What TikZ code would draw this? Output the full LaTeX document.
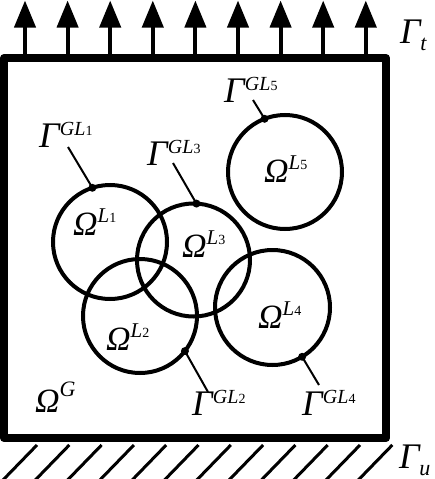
\documentclass[tikz,border=0pt]{standalone}
\usepackage{fontspec}
\setmainfont{Liberation Serif}
\usetikzlibrary{arrows.meta}
\newcommand\glab[3]{{\fontsize{36}{36}\selectfont\itshape #1}\kern0.5pt\raisebox{12pt}{\fontsize{20}{20}\selectfont\itshape #2{\fontsize{14}{14}\selectfont\upshape #3}}}
\newcommand\olab[3]{{\fontsize{34}{34}\selectfont\itshape #1}\raisebox{13pt}{\fontsize{21}{21}\selectfont\itshape #2{\fontsize{14}{14}\selectfont\upshape #3}}}
\newcommand\blab[2]{{\fontsize{36}{36}\selectfont\itshape #1}\raisebox{-7pt}{\fontsize{22}{22}\selectfont\itshape #2}}
\begin{document}
\begin{tikzpicture}[x=1pt,y=-1pt,
  boxline/.style={line width=8pt,line join=round},
  load/.style={line width=4pt,-{Triangle[length=27pt,width=21pt]}},
  hatch/.style={line width=3pt},
  loc/.style={circle,draw,line width=4pt,inner sep=0pt,outer sep=0pt},
  lead/.style={line width=2pt},
  lbl/.style={anchor=base west,inner sep=0pt,outer sep=0pt}]
\useasboundingbox (0,0) rectangle (434,479);
% domain
\coordinate (p1) at (4,58);
\coordinate (p2) at (386,58);
\coordinate (p3) at (386,438);
\coordinate (p4) at (4,438);
\draw[boxline] (p1) -- (p2) -- (p3) -- (p4) -- cycle;
% traction arrows
\foreach \i in {0,...,8} {
  \coordinate (ab\i) at ({25+42.6*\i},54);
  \coordinate (at\i) at ({25+42.6*\i},0.5);
  \draw[load] (ab\i) -- (at\i);
}
% fixed support hatching
\foreach \i in {0,...,11} {
  \coordinate (hb\i) at ({3+32.3*\i},480);
  \coordinate (ht\i) at ({37+32.3*\i},445);
  \draw[hatch] (hb\i) -- (ht\i);
}
% local circles
\node[loc,minimum size=114pt] (c1) at (110,242) {};
\node[loc,minimum size=113pt] (c3) at (193.5,260) {};
\node[loc,minimum size=114pt] (c5) at (285,172) {};
\node[loc,minimum size=114pt] (c2) at (140,316) {};
\node[loc,minimum size=115pt] (c4) at (272.5,307.5) {};
% dots
\fill (c1.108) circle (4);
\fill (c3.87.5) circle (4);
\fill (c5.111) circle (4);
\fill (c2.-38.7) circle (4);
\fill (c4.-59.6) circle (4);
% omega labels
\node[lbl] (o1) at (73,235) {\olab{Ω}{L}{1}};
\node[lbl] (o3) at (182,257) {\olab{Ω}{L}{3}};
\node[lbl] (o5) at (264,182) {\olab{Ω}{L}{5}};
\node[lbl] (o2) at (106,350) {\olab{Ω}{L}{2}};
\node[lbl] (o4) at (258,328) {\olab{Ω}{L}{4}};
\node[lbl] (og) at (35,412) {{\fontsize{34}{34}\selectfont\itshape Ω}\raisebox{16pt}{\fontsize{22}{22}\selectfont\itshape G}};
% gamma labels
\node[lbl] (g1) at (39,147) {\glab{Γ}{GL}{1}};
\node[lbl] (g3) at (147,165) {\glab{Γ}{GL}{3}};
\node[lbl] (g5) at (224,102) {\glab{Γ}{GL}{5}};
\node[lbl] (g2) at (192,415) {\glab{Γ}{GL}{2}};
\node[lbl] (g4) at (302,415) {\glab{Γ}{GL}{4}};
% leader lines
\coordinate (e1) at (68,147);
\coordinate (e3) at (173,163);
\coordinate (e5) at (253,100);
\coordinate (e2) at (208,392);
\coordinate (e4) at (319,385);
\draw[lead] (c1.108) -- (e1);
\draw[lead] (c3.87.5) -- (e3);
\draw[lead] (c5.111) -- (e5);
\draw[lead] (c2.-38.7) -- (e2);
\draw[lead] (c4.-59.6) -- (e4);
% boundary labels
\node[lbl] (gt) at (400,43) {\blab{Γ}{t}};
\node[lbl] (gu) at (399,468) {\blab{Γ}{u}};
\end{tikzpicture}
\end{document}
